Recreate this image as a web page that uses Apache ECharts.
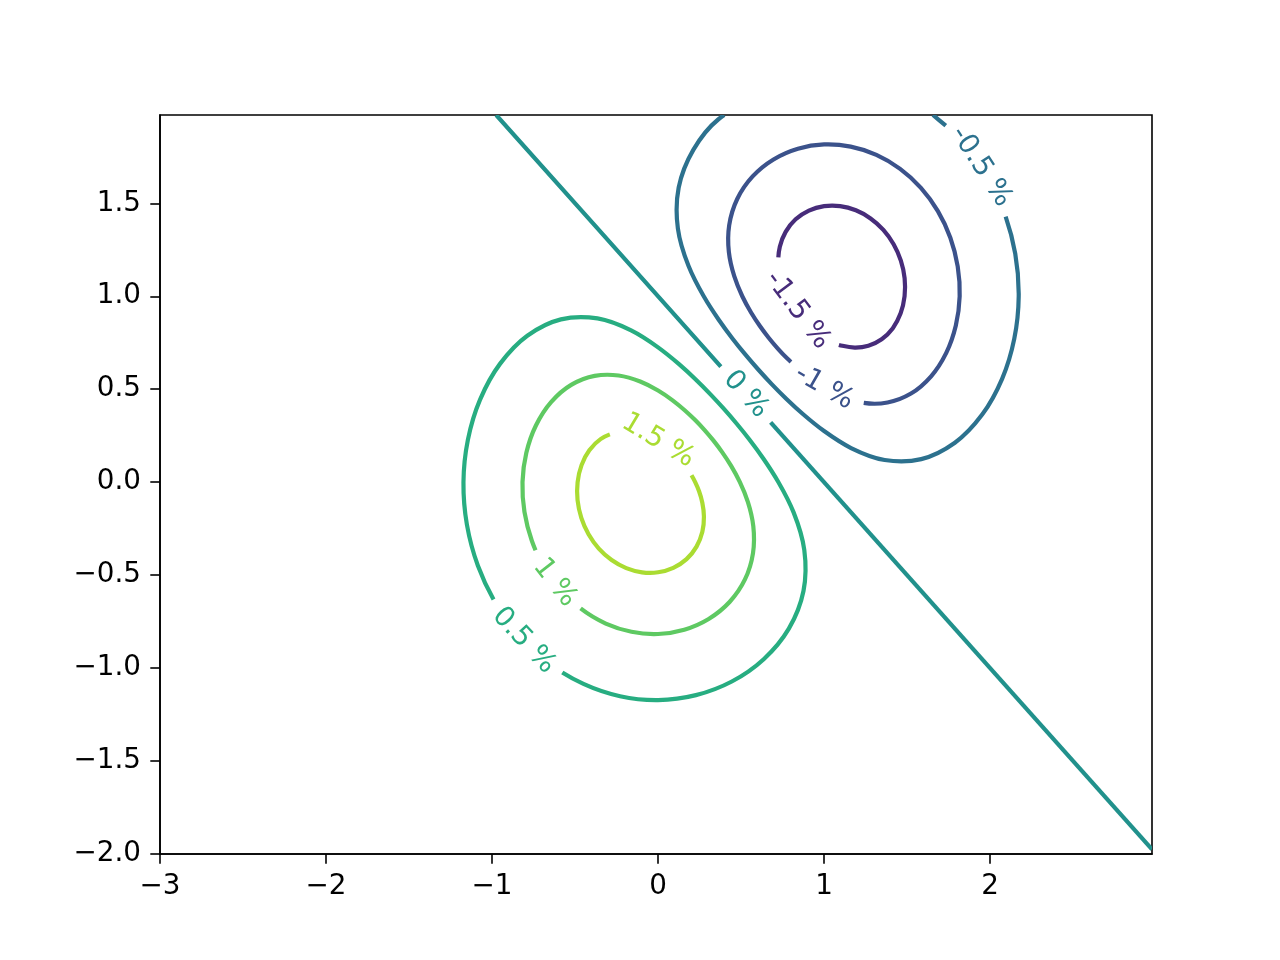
<!DOCTYPE html>
<html><head><meta charset="utf-8">
<script src="https://cdn.jsdelivr.net/npm/echarts@6/dist/echarts.min.js"></script>
<style>html,body{margin:0;padding:0;background:#fff}#c{width:1280px;height:960px}</style>
</head><body><div id="c"></div>
<script>
// ---- tick labels ----
const xTicks = [-3, -2, -1, 0, 1, 2];
const yTicks = [-2, -1.5, -1, -0.5, 0, 0.5, 1, 1.5];

// ---- contour levels ----
const levels = [-1.5, -1, -0.5, 0, 0.5, 1, 1.5];

// ---- contour paths [x, y] (broken where labels sit) ----
const contourNeg15 = [[1.0891,0.7384],[1.1104,0.7335],[1.1846,0.7238],[1.2667,0.7333],[1.3466,0.7684],[1.4140,0.8285],[1.4609,0.9083],[1.4847,1.0],[1.4850,1.0965],[1.4623,1.1915],[1.4187,1.2798],[1.3569,1.3569],[1.2798,1.4187],[1.1915,1.4623],[1.0965,1.4850],[1.0,1.4847],[0.9083,1.4609],[0.8285,1.4140],[0.7684,1.3466],[0.7333,1.2667],[0.7244,1.2092]];
const contourNeg10 = [[1.2388,0.4262],[1.3820,0.4283],[1.5233,0.4767],[1.6445,0.5694],[1.7358,0.6952],[1.7935,0.8422],[1.8166,1.0],[1.8048,1.1601],[1.7604,1.3150],[1.6853,1.4579],[1.5831,1.5831],[1.4579,1.6853],[1.3150,1.7604],[1.1601,1.8048],[1.0,1.8166],[0.8422,1.7935],[0.6952,1.7358],[0.5694,1.6445],[0.4767,1.5233],[0.4283,1.3820],[0.4264,1.2376],[0.4588,1.1077],[0.5072,1.0],[0.5600,0.9125],[0.6132,0.8398],[0.6660,0.7768],[0.7198,0.7198],[0.7768,0.6660],[0.8001,0.6466]];
const contourNeg05a = [[0.398,1.975],[0.3637,1.9522],[0.2123,1.7877],[0.1242,1.5852],[0.1193,1.3648],[0.1837,1.1624],[0.275,1.0],[0.3653,0.8738],[0.4489,0.7717],[0.5275,0.6843],[0.6046,0.6046],[0.6843,0.5275],[0.7717,0.4489],[0.8738,0.3653],[1.0,0.275],[1.1624,0.1837],[1.3648,0.1193],[1.5852,0.1242],[1.7877,0.2123],[1.9522,0.3637],[2.0722,0.5559],[2.1456,0.7721],[2.1722,1.0],[2.1513,1.2290],[2.0936,1.4286]];
const contourNeg05b = [[1.7328,1.9179],[1.6557,1.975]];
const contourZeroA = [[-0.975,1.975],[0.378,0.622]];
const contourZeroB = [[0.678,0.322],[2.975,-1.975]];
const contourPos05 = [[-0.5768,-1.0237],[-0.4495,-1.0851],[-0.2290,-1.1513],[0.0,-1.1722],[0.2279,-1.1456],[0.4441,-1.0722],[0.6363,-0.9522],[0.7877,-0.7877],[0.8758,-0.5852],[0.8807,-0.3648],[0.8163,-0.1624],[0.725,0.0],[0.6347,0.1262],[0.5511,0.2283],[0.4725,0.3157],[0.3954,0.3954],[0.3157,0.4725],[0.2283,0.5511],[0.1262,0.6347],[0.0,0.725],[-0.1624,0.8163],[-0.3648,0.8807],[-0.5852,0.8758],[-0.7877,0.7877],[-0.9522,0.6363],[-1.0722,0.4441],[-1.1456,0.2279],[-1.1722,0.0],[-1.1513,-0.2290],[-1.0851,-0.4495],[-0.9910,-0.6313]];
const contourPos10 = [[-0.4667,-0.6791],[-0.3150,-0.7604],[-0.1601,-0.8048],[0.0,-0.8166],[0.1578,-0.7935],[0.3048,-0.7358],[0.4306,-0.6445],[0.5233,-0.5233],[0.5717,-0.3820],[0.5736,-0.2376],[0.5412,-0.1077],[0.4928,0.0],[0.4400,0.0875],[0.3868,0.1602],[0.3340,0.2232],[0.2802,0.2802],[0.2232,0.3340],[0.1602,0.3868],[0.0875,0.4400],[0.0,0.4928],[-0.1077,0.5412],[-0.2376,0.5736],[-0.3820,0.5717],[-0.5233,0.5233],[-0.6445,0.4306],[-0.7358,0.3048],[-0.7935,0.1578],[-0.8166,0.0],[-0.8048,-0.1601],[-0.7604,-0.3150],[-0.7381,-0.3664]];
const contourPos15 = [[-0.2906,0.2571],[-0.3466,0.2316],[-0.4140,0.1715],[-0.4609,0.0917],[-0.4847,0.0],[-0.4850,-0.0965],[-0.4623,-0.1915],[-0.4187,-0.2798],[-0.3569,-0.3569],[-0.2798,-0.4187],[-0.1915,-0.4623],[-0.0965,-0.4850],[0.0,-0.4847],[0.0917,-0.4609],[0.1715,-0.4140],[0.2316,-0.3466],[0.2667,-0.2667],[0.2762,-0.1846],[0.2665,-0.1104],[0.2469,-0.0491],[0.2235,0.0],[0.2014,0.037]];

// ---- inline contour labels ----
const labelText  = ['-1.5 %', '-1 %', '-0.5 %', '0 %', '0.5 %', '1 %', '1.5 %'];
const labelLevel = [-1.5, -1, -0.5, 0, 0.5, 1, 1.5];
const labelXY    = [[0.84,0.925],[1.0,0.51],[1.945,1.697],[0.528,0.472],[-0.809,-0.852],[-0.622,-0.541],[0.0,0.2235]];
const labelAngle = [-53, -30, -57, -48, -47, -52, -31];

// ---- styling ----
const levelColor = {'-1.5':'#472c7a','-1':'#3b528b','-0.5':'#2c718e','0':'#21918c','0.5':'#27ad81','1':'#5ec962','1.5':'#aadc32'};
const FONT = 'DejaVu Sans';
const FS = 27.8;
const LW = 4.2;
const minus = s => String(s).replace('-', '\u2212');

const segments = [
  [-1.5, contourNeg15], [-1, contourNeg10], [-0.5, contourNeg05a], [-0.5, contourNeg05b],
  [0, contourZeroA], [0, contourZeroB], [0.5, contourPos05], [1, contourPos10], [1.5, contourPos15]
];

function unit(a, b) {
  const dx = b[0] - a[0], dy = b[1] - a[1], L = Math.hypot(dx, dy) || 1;
  return [dx / L, dy / L, L];
}
function norm(v) { const L = Math.hypot(v[0], v[1]) || 1; return [v[0] / L, v[1] / L]; }

// smooth curve through the data points, positioned by the chart's own axes (api.coord)
function smoothRenderer(pts, color) {
  return function (params, api) {
    if (params.dataIndex !== 0) return null;
    const P = pts.map(p => api.coord(p));
    const n = P.length;
    const tan = new Array(n);
    for (let i = 1; i < n - 1; i++) {
      const a = unit(P[i - 1], P[i]), b = unit(P[i], P[i + 1]);
      tan[i] = norm([b[2] * a[0] + a[2] * b[0], b[2] * a[1] + a[2] * b[1]]);
    }
    const f = unit(P[0], P[1]);
    const l = unit(P[n - 2], P[n - 1]);
    tan[0] = n > 2 ? norm([2 * f[0] - tan[1][0], 2 * f[1] - tan[1][1]]) : [f[0], f[1]];
    tan[n - 1] = n > 2 ? norm([2 * l[0] - tan[n - 2][0], 2 * l[1] - tan[n - 2][1]]) : [l[0], l[1]];
    let d = 'M' + P[0][0] + ' ' + P[0][1];
    for (let i = 0; i < n - 1; i++) {
      const p = P[i], q = P[i + 1];
      const L = Math.hypot(q[0] - p[0], q[1] - p[1]) / 3;
      d += ' C' + (p[0] + tan[i][0] * L) + ' ' + (p[1] + tan[i][1] * L) + ' ' +
           (q[0] - tan[i + 1][0] * L) + ' ' + (q[1] - tan[i + 1][1] * L) + ' ' + q[0] + ' ' + q[1];
    }
    return {
      type: 'path',
      shape: { pathData: d },
      style: { stroke: color, lineWidth: LW, fill: 'none', lineCap: 'butt', lineJoin: 'round' }
    };
  };
}

const series = segments.map(([lvl, pts]) => ({
  type: 'custom', coordinateSystem: 'cartesian2d', data: pts,
  encode: { x: 0, y: 1 }, clip: true, silent: true, z: 2,
  renderItem: smoothRenderer(pts, levelColor[String(lvl)])
}));

labelText.forEach((t, i) => {
  series.push({
    type: 'scatter', data: [labelXY[i]], symbolSize: 0, silent: true, z: 5,
    itemStyle: { color: levelColor[String(labelLevel[i])], opacity: 0 },
    label: {
      show: true, position: [0, 0], formatter: t, rotate: labelAngle[i],
      color: levelColor[String(labelLevel[i])], opacity: 1, fontSize: FS, fontFamily: FONT,
      textBorderWidth: 0, align: 'center', verticalAlign: 'middle'
    }
  });
});

const chart = echarts.init(document.getElementById('c'), null, { renderer: 'canvas' });
chart.setOption({
  animation: false,
  backgroundColor: '#fff',
  grid: { left: 160, right: 128, top: 115, bottom: 106, show: true, borderColor: '#000', borderWidth: 1.6, containLabel: false },
  xAxis: {
    type: 'value', min: -3, max: 2.975, interval: 1,
    splitLine: { show: false },
    axisLine: { show: true, onZero: false, lineStyle: { color: '#000', width: 1.6 } },
    axisTick: { show: true, length: 9.7, lineStyle: { color: '#000', width: 1.6 }, customValues: xTicks },
    axisLabel: { show: true, margin: 19, color: '#000', fontSize: FS, fontFamily: FONT, customValues: xTicks,
      formatter: v => (xTicks.indexOf(v) >= 0 ? minus(v) : '') }
  },
  yAxis: {
    type: 'value', min: -2, max: 1.975, interval: 0.5,
    splitLine: { show: false },
    axisLine: { show: true, onZero: false, lineStyle: { color: '#000', width: 1.6 } },
    axisTick: { show: true, length: 9.7, lineStyle: { color: '#000', width: 1.6 }, customValues: yTicks },
    axisLabel: { show: true, margin: 19, color: '#000', fontSize: FS, fontFamily: FONT, customValues: yTicks,
      formatter: v => (yTicks.indexOf(v) >= 0 ? minus(Number(v).toFixed(1)) : '') }
  },
  series: series
});
</script>
</body></html>
